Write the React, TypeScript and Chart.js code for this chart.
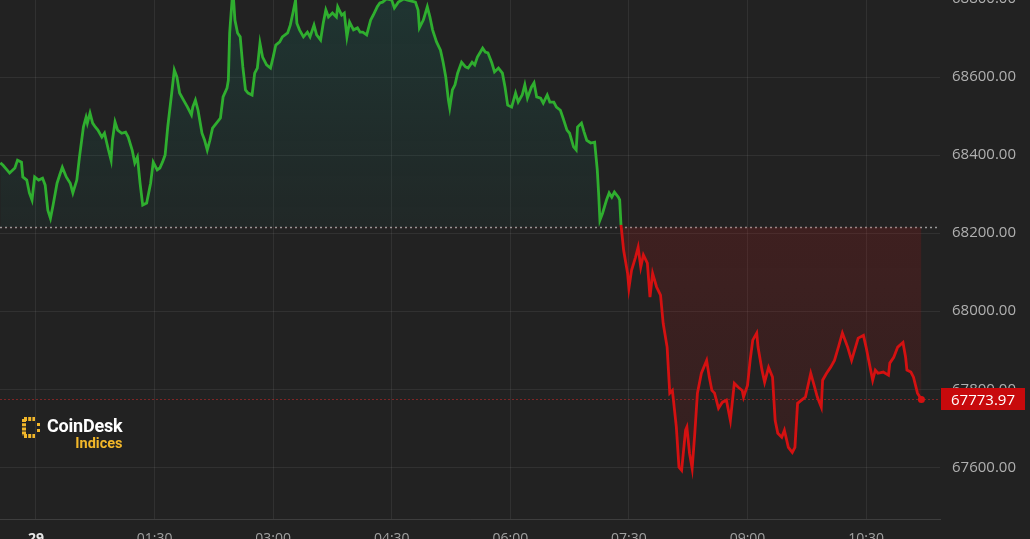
import React, { useEffect, useRef } from 'react';
import { Chart, registerables } from 'chart.js';

Chart.register(...registerables);

// ---- data ----
const PREV_CLOSE = 68215;
const LAST_PRICE = 67773.97;
const DAY_LABEL = '29';
const X_MIN = -27.3;
const X_MAX = 686.1;
const Y_MIN = 67467.5;
const Y_MAX = 68848.7;
const xTickValues = [0, 90, 180, 270, 360, 450, 540, 630]; // minutes
const yTickValues = [67600, 67800, 68000, 68200, 68400, 68600, 68800];

// minutes from 00:00 on the 29th
const minutes = [
  -27, -25, -22, -20, -16, -14, -11, -10, -7, -5, -3, -1, 2, 5, 7, 9, 11, 13, 16, 18,
  20, 23, 26, 28, 31, 33, 36, 38, 39, 41, 43, 45, 47, 50, 52, 55, 57, 58, 60, 62,
  65, 68, 70, 73, 75, 77, 79, 81, 84, 87, 89, 92, 94, 96, 98, 100, 103, 105, 107, 109,
  112, 115, 118, 119, 121, 123, 126, 128, 130, 132, 134, 137, 140, 142, 145, 146, 147, 149, 150, 151,
  153, 155, 157, 159, 161, 164, 166, 168, 170, 172, 175, 178, 180, 182, 185, 187, 191, 193, 195, 197,
  198, 200, 203, 206, 208, 211, 213, 216, 218, 220, 222, 225, 228, 229, 232, 234, 236, 238, 241, 244,
  246, 248, 251, 254, 256, 259, 261, 263, 266, 270, 272, 275, 279, 282, 288, 290, 291, 294, 297, 299,
  301, 304, 307, 309, 311, 313, 314, 316, 318, 320, 323, 326, 328, 331, 333, 335, 339, 341, 343, 346,
  348, 351, 354, 356, 358, 361, 364, 366, 369, 371, 373, 376, 378, 380, 383, 385, 388, 390, 393, 395,
  398, 400, 403, 405, 408, 410, 411, 414, 416, 418, 421, 424, 426, 427, 428, 430, 433, 435, 437, 439,
  442, 443, 444, 446, 449, 450, 452, 455, 457, 459, 461, 464, 466, 468, 471, 474, 476, 479, 481, 483,
  486, 488, 490, 493, 494, 496, 498, 500, 502, 505, 509, 511, 513, 515, 518, 521, 524, 527, 530, 533,
  536, 537, 540, 542, 544, 547, 548, 551, 553, 556, 559, 561, 563, 566, 568, 571, 574, 576, 578, 581,
  584, 588, 591, 593, 596, 597, 600, 603, 606, 609, 612, 614, 616, 619, 622, 624, 628, 630, 632, 635,
  637, 639, 643, 647, 648, 651, 654, 658, 660, 661, 664, 666, 669, 672,
];

const prices = [
  68380, 68374, 68362, 68354, 68367, 68387, 68382, 68344, 68336, 68303, 68285, 68344, 68336, 68341, 68323, 68259, 68238, 68272, 68328, 68349,
  68369, 68344, 68328, 68303, 68336, 68395, 68472, 68497, 68482, 68508, 68482, 68472, 68464, 68446, 68456, 68413, 68387, 68438, 68485, 68464,
  68456, 68459, 68446, 68413, 68380, 68395, 68328, 68272, 68277, 68328, 68382, 68362, 68367, 68382, 68400, 68472, 68559, 68618, 68600, 68559,
  68541, 68523, 68503, 68523, 68541, 68515, 68456, 68438, 68413, 68438, 68469, 68482, 68495, 68549, 68572, 68592, 68713, 68805, 68797, 68746,
  68713, 68703, 68626, 68567, 68559, 68554, 68610, 68623, 68687, 68651, 68631, 68623, 68651, 68682, 68690, 68703, 68713, 68733, 68764, 68797,
  68738, 68721, 68703, 68715, 68703, 68733, 68708, 68695, 68738, 68772, 68754, 68764, 68754, 68780, 68759, 68764, 68703, 68741, 68721, 68726,
  68715, 68715, 68708, 68746, 68759, 68780, 68790, 68792, 68800, 68797, 68777, 68792, 68800, 68797, 68792, 68772, 68726, 68746, 68780, 68754,
  68721, 68690, 68669, 68638, 68600, 68541, 68521, 68567, 68580, 68610, 68638, 68626, 68623, 68638, 68631, 68651, 68674, 68664, 68662, 68636,
  68613, 68623, 68610, 68574, 68528, 68523, 68559, 68536, 68554, 68580, 68546, 68574, 68585, 68549, 68546, 68533, 68554, 68536, 68536, 68523,
  68515, 68495, 68464, 68456, 68421, 68413, 68472, 68482, 68459, 68438, 68431, 68433, 68362, 68303, 68233, 68251, 68285, 68303, 68292, 68305,
  68292, 68285, 68221, 68156, 68097, 68059, 68105, 68138, 68164, 68113, 68144, 68123, 68036, 68097, 68062, 68041, 67969, 67908, 67790, 67797,
  67703, 67600, 67592, 67695, 67703, 67636, 67597, 67687, 67790, 67841, 67874, 67831, 67797, 67790, 67751, 67767, 67772, 67720, 67815, 67805,
  67797, 67780, 67810, 67874, 67926, 67944, 67908, 67849, 67818, 67856, 67831, 67720, 67687, 67677, 67695, 67651, 67638, 67651, 67764, 67772,
  67780, 67841, 67805, 67780, 67754, 67823, 67841, 67856, 67874, 67908, 67944, 67926, 67908, 67874, 67908, 67931, 67938, 67908, 67874, 67823,
  67849, 67841, 67844, 67836, 67867, 67882, 67908, 67920, 67882, 67849, 67844, 67831, 67790, LAST_PRICE,
];

// ---- styles ----
const FONT = '"Open Sans", "Noto Sans", sans-serif';
const BG = '#222222';
const GREEN = '#2fae2f';
const RED = '#d41111';
const GRID = 'rgba(255,255,255,0.07)';

const overlayPlugin = {
  id: 'overlay',
  beforeDatasetsDraw(chart: any) {
    const { ctx, chartArea: a, scales } = chart;
    const y = scales.y;
    ctx.save();
    ctx.beginPath();
    ctx.rect(a.left, a.top, a.right - a.left, a.bottom - a.top);
    ctx.clip();
    const yb = Math.round(y.getPixelForValue(PREV_CLOSE)) + 0.5;
    ctx.setLineDash([2, 3]);
    ctx.lineWidth = 1.5;
    ctx.strokeStyle = 'rgba(175,175,175,0.85)';
    ctx.beginPath();
    ctx.moveTo(a.left, yb);
    ctx.lineTo(a.right, yb);
    ctx.stroke();
    const yl = Math.round(y.getPixelForValue(LAST_PRICE)) + 0.5;
    ctx.setLineDash([2, 2]);
    ctx.lineWidth = 1;
    ctx.strokeStyle = 'rgba(200,40,40,0.55)';
    ctx.beginPath();
    ctx.moveTo(a.left, yl);
    ctx.lineTo(a.right, yl);
    ctx.stroke();
    ctx.restore();
  },
  afterDraw(chart: any) {
    const { ctx, chartArea: a, scales } = chart;
    const yl = scales.y.getPixelForValue(LAST_PRICE);
    ctx.save();
    ctx.fillStyle = '#c80a0c';
    ctx.fillRect(a.right + 1, Math.round(yl) - 11, 84, 22);
    ctx.fillStyle = '#ffffff';
    ctx.font = `15px ${FONT}`;
    ctx.textAlign = 'left';
    ctx.textBaseline = 'middle';
    ctx.fillText(LAST_PRICE.toFixed(2), a.right + 11, yl + 1);
    ctx.restore();
  },
};

function fmtTime(v: number): string {
  if (v % 1440 === 0) return DAY_LABEL;
  const h = Math.floor(v / 60);
  const m = v % 60;
  return `${String(h).padStart(2, '0')}:${String(m).padStart(2, '0')}`;
}

function PriceChart() {
  const ref = useRef<HTMLCanvasElement | null>(null);
  useEffect(() => {
    if (!ref.current) return;
    const data = minutes.map((m, i) => ({ x: m, y: prices[i] }));
    const last = data.length - 1;
    const chart = new Chart(ref.current, {
      type: 'line',
      data: {
        datasets: [
          {
            data,
            borderWidth: 2.8,
            borderColor: GREEN,
            segment: {
              borderColor: (c: any) => (c.p0.parsed.y < PREV_CLOSE || c.p1.parsed.y < PREV_CLOSE ? RED : GREEN),
            },
            pointRadius: (c: any) => (c.dataIndex === last ? 3.5 : 0),
            pointBackgroundColor: RED,
            pointBorderWidth: 0,
            tension: 0,
            clip: 4,
            fill: { value: PREV_CLOSE },
            backgroundColor: (c: any) => {
              const ch = c.chart;
              const area = ch.chartArea;
              const ys = ch.scales && ch.scales.y;
              if (!area || !ys) return 'rgba(0,0,0,0)';
              const g = ch.ctx.createLinearGradient(0, area.top, 0, area.bottom);
              const bp = ys.getPixelForValue(PREV_CLOSE);
              let r = (bp - area.top) / (area.bottom - area.top);
              r = Math.min(0.999, Math.max(0.001, r));
              g.addColorStop(0, 'rgba(25,95,85,0.32)');
              g.addColorStop(r - 0.001, 'rgba(25,95,85,0.10)');
              g.addColorStop(r, 'rgba(165,25,25,0.22)');
              g.addColorStop(1, 'rgba(165,25,25,0.12)');
              return g;
            },
          } as any,
        ],
      },
      options: {
        animation: false,
        responsive: false,
        devicePixelRatio: 1,
        layout: { padding: 0, autoPadding: false },
        plugins: { legend: { display: false }, tooltip: { enabled: false } },
        scales: {
          x: {
            type: 'linear',
            min: X_MIN,
            max: X_MAX,
            afterBuildTicks: (s: any) => {
              s.ticks = xTickValues.map((v) => ({ value: v }));
            },
            afterFit: (s: any) => {
              s.height = 35;
              s.paddingLeft = 0;
              s.paddingRight = 0;
              s.paddingTop = 0;
              s.paddingBottom = 0;
            },
            grid: { color: GRID, drawTicks: false },
            border: { display: true, color: 'rgba(255,255,255,0.13)' },
            ticks: {
              padding: 12,
              maxRotation: 0,
              autoSkip: false,
              callback: (v: any) => fmtTime(Number(v)),
              color: (c: any) => (c.tick && c.tick.value % 1440 === 0 ? '#e6e6e6' : '#a0a0a0'),
              font: (c: any) => ({
                family: FONT,
                size: 14,
                weight: c.tick && c.tick.value % 1440 === 0 ? 'bold' : 'normal',
              }),
            },
          },
          y: {
            type: 'linear',
            position: 'right',
            min: Y_MIN,
            max: Y_MAX,
            afterBuildTicks: (s: any) => {
              s.ticks = yTickValues.map((v) => ({ value: v }));
            },
            afterFit: (s: any) => {
              s.width = 90;
              s.paddingTop = 0;
              s.paddingBottom = 0;
              s.paddingLeft = 0;
              s.paddingRight = 0;
            },
            grid: { color: GRID, drawTicks: false },
            border: { display: false },
            ticks: {
              padding: 12,
              color: '#b0b0b0',
              font: { family: FONT, size: 15 },
              callback: (v: any) => Number(v).toFixed(2),
            },
          },
        },
      },
      plugins: [overlayPlugin],
    } as any);
    return () => chart.destroy();
  }, []);
  return (
    <canvas
      ref={ref}
      width={1030}
      height={574}
      style={{ position: 'absolute', left: 0, top: -20, width: 1030, height: 574, display: 'block' }}
    />
  );
}

function Logo() {
  return (
    <div style={{ position: 'absolute', left: 22, top: 416, display: 'flex', alignItems: 'flex-start' }}>
      <svg width="22" height="21" viewBox="0 0 22 21" style={{ marginTop: 1 }}>
        <path d="M2 2 H13 M2 2 V19 M2 19 H13" stroke="#f2b72a" strokeWidth="4" fill="none" strokeDasharray="3 1.2" />
        <rect x="15" y="6" width="3" height="3" fill="#f2b72a" />
        <rect x="15" y="12" width="3" height="3" fill="#f2b72a" />
      </svg>
      <div style={{ marginLeft: 3, display: 'flex', flexDirection: 'column', alignItems: 'flex-end', fontFamily: 'Roboto, "Open Sans", sans-serif', fontWeight: 700 }}>
        <span style={{ color: '#ffffff', fontSize: 18, lineHeight: '20px', letterSpacing: -0.2 }}>CoinDesk</span>
        <span style={{ color: '#f2b72a', fontSize: 14.5, lineHeight: '15px' }}>Indices</span>
      </div>
    </div>
  );
}

export default function App() {
  useEffect(() => {
    document.body.style.margin = '0';
    document.body.style.background = BG;
  }, []);
  return (
    <div style={{ position: 'relative', width: 1030, height: 539, overflow: 'hidden', background: BG }}>
      <PriceChart />
      <Logo />
    </div>
  );
}
